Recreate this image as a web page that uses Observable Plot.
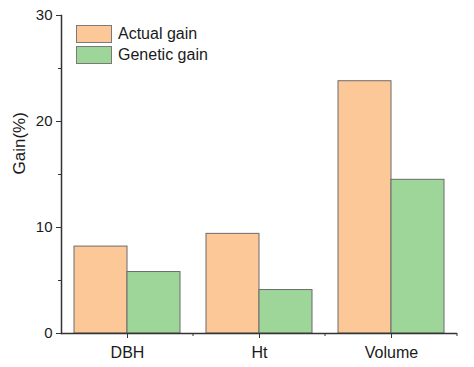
<!DOCTYPE html>
<html>
<head>
<meta charset="utf-8">
<script src="https://cdn.jsdelivr.net/npm/d3@7"></script>
<script src="https://cdn.jsdelivr.net/npm/@observablehq/plot@0.6"></script>
<style>
  html, body { margin: 0; padding: 0; background: #fff; }
  #wrap { position: relative; width: 474px; height: 367px; font-family: "Liberation Sans", Arial, sans-serif; }
  #legend { position: absolute; left: 76px; top: 25px; font-size: 16px; color: #1a1a1a; }
  .row { display: flex; align-items: center; height: 18px; margin-bottom: 3px; }
  .sw { width: 36px; height: 18px; border: 1px solid #7a7a7a; margin-right: 6px; box-sizing: border-box; }
</style>
</head>
<body>
<div id="wrap"></div>
<script>
const categories = ["DBH", "Ht", "Volume"];
const seriesNames = ["Actual gain", "Genetic gain"];
const actualGain = [8.2, 9.4, 23.8];
const geneticGain = [5.8, 4.1, 14.5];
const yMajorTicks = [0, 10, 20, 30];
const yMinorTicks = [5, 15, 25];
const yLabel = "Gain(%)";
const colors = ["#FDC898", "#9ED69A"];

const data = categories.flatMap((c, i) => [
  {trait: c, series: seriesNames[0], value: actualGain[i]},
  {trait: c, series: seriesNames[1], value: geneticGain[i]}
]);

const plot = Plot.plot({
  width: 474, height: 367,
  marginLeft: 61, marginRight: 17, marginTop: 15, marginBottom: 34,
  style: {fontFamily: "'Liberation Sans', Arial, sans-serif", fontSize: "15px", color: "#1a1a1a", background: "#fff"},
  fx: {domain: categories, padding: 0, label: null},
  x: {domain: seriesNames, paddingInner: 0, paddingOuter: 0.245, axis: null},
  y: {domain: [0, 30]},
  color: {domain: seriesNames, range: colors},
  marks: [
    Plot.barY(data, {fx: "trait", x: "series", y: "value", fill: "series", stroke: "#6b6b6b", strokeWidth: 1}),
    Plot.ruleY([0], {stroke: "#333", strokeWidth: 1.5}),
    Plot.frame({anchor: "left", facetAnchor: "left", stroke: "#333", strokeWidth: 1.5}),
    Plot.axisY(yMajorTicks, {tickSize: 5, tickPadding: 4, fontSize: 15, stroke: "#333", label: null}),
    Plot.axisY(yMinorTicks, {tickSize: 3, tickFormat: () => "", label: null, stroke: "#333"}),
    Plot.text([yLabel], {text: d => d, frameAnchor: "left", rotate: -90, dx: -42, fontSize: 17, fill: "#1a1a1a", facetAnchor: "left"}),
    Plot.axisFx({anchor: "bottom", tickSize: 5, tickPadding: 8, fontSize: 16, label: null, stroke: "#333"})
  ]
});

// minor ticks at the category boundaries, placed with the plot's own scales
const fx = plot.scale("fx");
const y = plot.scale("y");
const y0 = y.apply(0);
const svg = d3.select(plot.tagName.toLowerCase() === "svg" ? plot : plot.querySelector("svg"));
const g = svg.append("g").attr("stroke", "#333").attr("stroke-width", 1);
categories.forEach(c => {
  const xr = fx.apply(c) + fx.bandwidth;
  g.append("line").attr("x1", xr).attr("x2", xr).attr("y1", y0).attr("y2", y0 + 3);
});

const wrap = document.getElementById("wrap");
wrap.appendChild(plot);

const legend = document.createElement("div");
legend.id = "legend";
seriesNames.forEach((s, i) => {
  const row = document.createElement("div");
  row.className = "row";
  const sw = document.createElement("div");
  sw.className = "sw";
  sw.style.background = colors[i];
  const t = document.createElement("span");
  t.textContent = s;
  row.appendChild(sw);
  row.appendChild(t);
  legend.appendChild(row);
});
wrap.appendChild(legend);
</script>
</body>
</html>
